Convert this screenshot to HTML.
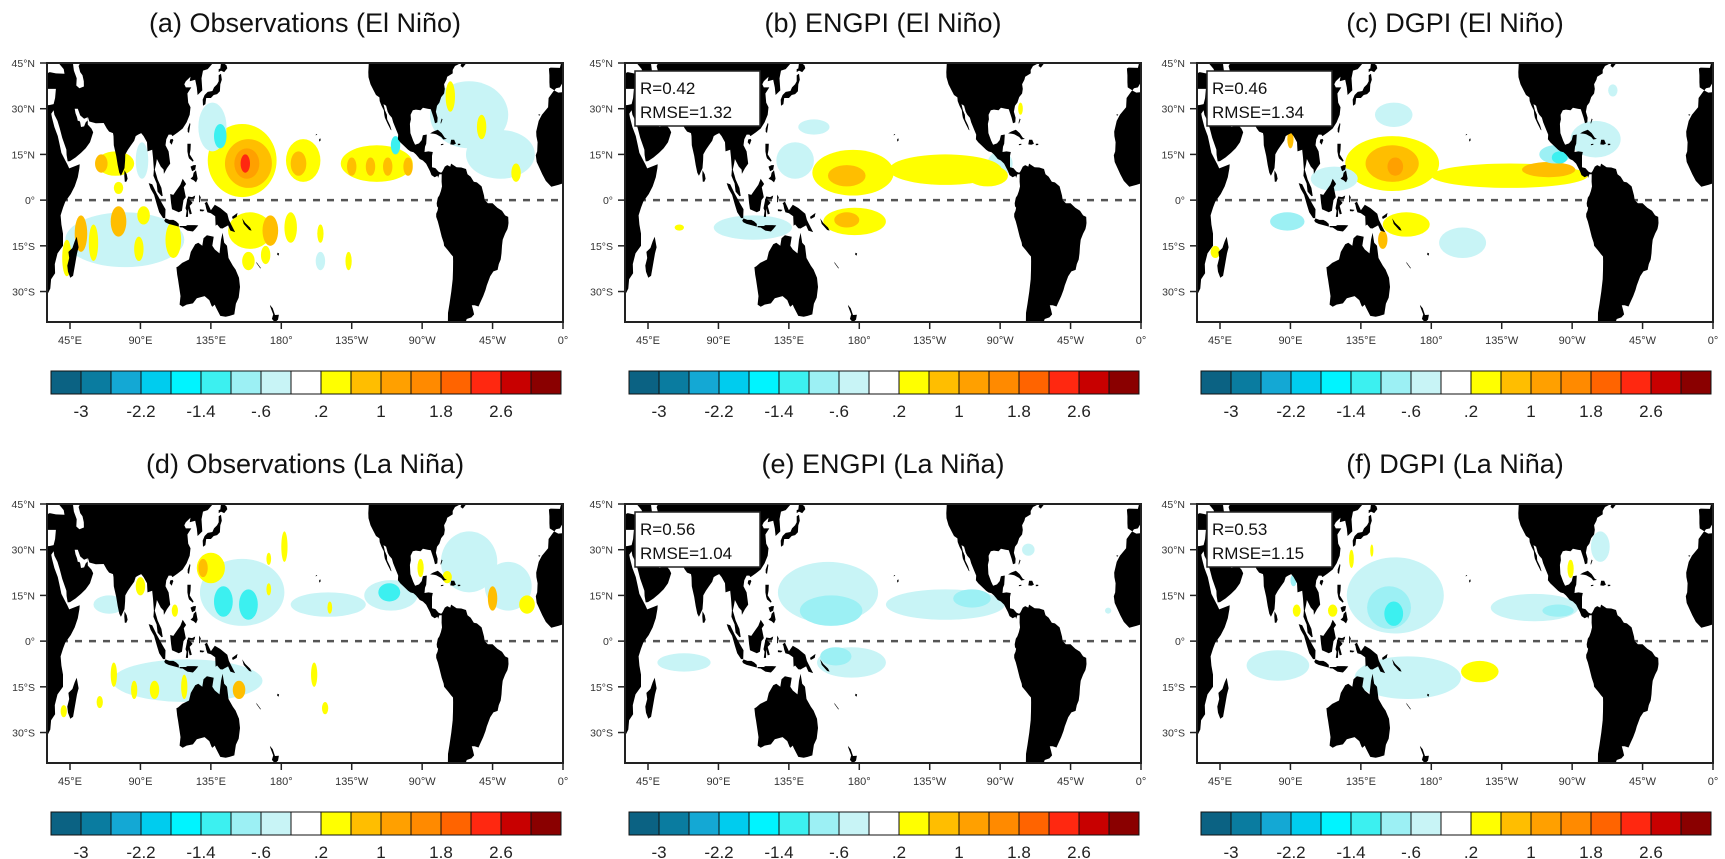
<!DOCTYPE html>
<html><head><meta charset="utf-8">
<style>
html,body{margin:0;padding:0;background:#fff;}
svg{display:block;font-family:"Liberation Sans",Arial,sans-serif;}
</style></head>
<body>
<svg id="fig" width="1725" height="859" viewBox="0 0 1725 859" xmlns="http://www.w3.org/2000/svg"></svg>
<script>
// ---- chart data ----
const lonTickValues = [45,90,135,180,225,270,315,360];
const lonTickLabels = ['45°E','90°E','135°E','180°','135°W','90°W','45°W','0°'];
const latTickValues = [45,30,15,0,-15,-30];
const latTickLabels = ['45°N','30°N','15°N','0°','15°S','30°S'];
const cbBounds = [-3,-2.6,-2.2,-1.8,-1.4,-1,-0.6,-0.2,0.2,0.6,1,1.4,1.8,2.2,2.6,3];
const cbLabels = ['-3','-2.2','-1.4','-.6','.2','1','1.8','2.6'];
const cbColors = ['#0b6283','#0a7ca0','#14a8d4','#00ccee','#00f4ff','#3cf0f0','#9cf0f4','#c8f4f6','#ffffff','#ffff00','#ffbe00','#ffa000','#ff8a00','#ff6400','#ff2810','#c80000','#8a0000'];
const panelTitles = ['(a) Observations (El Niño)','(b) ENGPI (El Niño)','(c) DGPI (El Niño)','(d) Observations (La Niña)','(e) ENGPI (La Niña)','(f) DGPI (La Niña)'];
const panelR = [null,'R=0.42','R=0.46',null,'R=0.56','R=0.53'];
const panelRMSE = [null,'RMSE=1.32','RMSE=1.34',null,'RMSE=1.04','RMSE=1.15'];
// anomaly patches: [lon, lat, half-width lon, half-height lat, value]
const anomA = [[155,13,22,12,0.4],[159,12,15,8,0.8],[158,12,8,5,1.2],[157,12,3,3,2.2],[136,24,9,8,-0.4],[141,21,4,4,-1.2],
 [194,13,11,7,0.4],[191,12,5,4,0.8],[241,12,23,6,0.4],[225,11,3,3,0.8],[237,11,3,3,0.8],[248,11,3,3,0.8],[261,11,3,3,0.8],[253,18,3,3,-1.2],
 [300,28,25,11,-0.4],[320,15,22,8,-0.4],[288,34,3,5,0.4],[308,24,3,4,0.4],[330,9,3,3,0.4],
 [74,12,12,4,0.4],[65,12,4,3,0.8],[91,13,4,6,-0.4],[76,4,3,2,0.4],
 [80,-13,38,9,-0.4],[43,-19,3,6,0.4],[52,-11,4,6,0.8],[76,-7,5,5,0.8],[92,-5,4,3,0.4],[111,-13,5,6,0.4],[89,-16,3,4,0.4],[60,-14,3,6,0.4],
 [160,-10,14,6,0.4],[173,-10,5,5,0.8],[186,-9,4,5,0.4],[205,-11,2,3,0.4],[223,-20,2,3,0.4],[205,-20,3,3,-0.4],[159,-20,4,3,0.4],[170,-18,3,3,0.4]];
const anomB = [[139,13,12,6,-0.4],[151,24,10,2.5,-0.4],[112,-9,25,4,-0.4],[270,12,8,4,-0.4],
 [176,9,26,7.5,0.4],[235,10,36,5,0.4],[262,8,13,3.5,0.4],[172,8,12,3.5,0.8],[177,-7,20,4.5,0.4],[172,-6.5,8,2.5,0.8],[65,-9,3,1,0.4],[283,30,1.5,2,0.4]];
const anomC = [[155,12,30,9,0.4],[230,8,50,4,0.4],[155,12,17,6,0.8],[157,11,5,3,1.2],[255,10,17,2.5,0.8],
 [259,15,10,3,-0.8],[262,14,5,2,-1.2],[156,28,12,4,-0.4],[88,-7,11,3,-0.8],[118,7,15,4,-0.4],[200,-14,15,5,-0.4],[296,36,3,2,-0.4],[285,20,16,6,-0.4],
 [164,-8,15,4,0.4],[149,-13,3,3,0.8],[90,20,2,3,0.8],[42,-17,3,2,0.4]];
const anomD = [[155,16,27,11,-0.4],[143,13,6,5,-1.2],[159,12,6,5,-1.2],[210,12,24,4,-0.4],[250,15,17,5,-0.4],[249,16,7,3,-1.2],
 [135,24,9,5,0.4],[130,24,3,3,0.8],[182,31,2,5,0.4],[172,27,1.5,2,0.4],[172,17,1.5,2,0.4],[211,11,1.5,2,0.4],[90,18,3,3,0.4],[112,10,2,2,0.4],
 [70,12,10,3,-0.4],[300,26,18,10,-0.4],[325,18,15,8,-0.4],[315,14,3,4,0.8],[337,12,5,3,0.4],[269,24,2,3,0.4],[286,21,3,2,0.4],
 [120,-13,48,7,-0.4],[73,-11,2,4,0.4],[86,-16,2,3,0.4],[99,-16,3,3,0.4],[118,-15,2,4,0.4],[153,-16,4,3,0.8],[201,-11,2,4,0.4],[208,-22,2,2,0.4],[64,-20,2,2,0.4],[41,-23,2,2,0.4]];
const anomE = [[160,16,32,10,-0.4],[235,12,38,5,-0.4],[162,10,20,5,-0.8],[252,14,12,3,-0.8],[175,-7,22,5,-0.4],[165,-5,10,3,-0.8],[68,-7,17,3,-0.4],[288,30,4,2,-0.4],[339,10,2,1,-0.4]];
const anomF = [[157,15,31,12.5,-0.4],[153,11,14,7,-0.8],[156,9,6,4,-1.2],[246,11,28,4.5,-0.4],[261,10,10,2,-0.8],
 [269,23.7,2,3,0.4],[94,10,2.5,2,0.4],[117,10,3,2,0.4],[129,27,1.5,3,0.4],[142,29.7,1,2,0.4],[211,-10,12,3.5,0.4],[92,20,2,2,-0.8],
 [82,-8,20,5,-0.4],[165,-12,34,7,-0.4],[288,31,6,5,-0.4]];
const panelAnoms = [anomA,anomB,anomC,anomD,anomE,anomF];

// ---- geography (land outlines, lon 0-360, lat) ----
const landPolys = [
 [[29,47],[138,47],[138,46],[133,43],[130,42.5],[129,40],[129.5,36],[126.5,34.5],[126,37],[125,39.5],[121.5,39],[122,40.5],[119,39],[118,38],[119,37],[122.5,37],[120,35],[120.5,32],[122,30.5],[121.5,28],[119.5,25.5],[117,23.5],[114,22.3],[110.5,21],[109.8,21.5],[108,21.5],[106.5,20],[106,18],[108,16],[109,12],[107,10.5],[105,8.6],[104.8,10],[103,11],[100.5,13.5],[100,12],[99.2,10],[100.3,8],[101,6.8],[103.4,4],[104.2,1.4],[103.5,1.3],[101,2.8],[100.3,5.5],[98.3,8],[98.6,10],[98,14],[97.5,16.5],[94.5,16],[94.2,19],[92,21],[90.5,22],[88.5,21.5],[87,21],[86,19.5],[84,18],[82,16.5],[80.3,15],[80.2,13],[79.8,10.5],[78,8.5],[77.5,8],[76.5,9],[75.5,11.5],[74.5,14.5],[73,18],[72.8,21],[72.5,22],[70,22.5],[68.5,23.5],[66.5,25.3],[61.5,25.2],[57.3,25.8],[56.5,27.2],[56.3,26.3],[56.4,24.8],[58.7,23.5],[59.8,22.3],[57.8,19],[55,17],[52,15.5],[48.5,14],[45,12.8],[43.5,12.7],[42.8,14.8],[42.7,16.5],[40,20.5],[38.5,23.5],[37,26],[35,28],[34.5,29.5],[33,28.3],[32.5,29.9],[33.5,27],[35,24],[37.2,21],[38.5,18],[39.5,15.5],[42,13],[43.3,11.8],[44.5,10.4],[51.2,11.8],[51,10.5],[50,7.5],[48,4.5],[45.5,2],[42,-0.5],[40.5,-2.5],[39,-5],[39.5,-8],[40.5,-11],[40.5,-15],[37,-17.5],[35.3,-21],[35.5,-24],[32.9,-26],[32.4,-29],[30.5,-31],[29,-32.5]],
 [[79.8,9.8],[81.2,8.5],[81.8,7],[81,6],[80,6],[79.7,8]],
 [[130,31],[131.5,31.5],[132,33.5],[135,33.5],[136.8,34.5],[139,34.8],[140.8,35.7],[141,38],[142,39.5],[141.5,41.5],[140,41],[140,39],[139,38],[137,37],[136,35.8],[133,35.5],[131,34.5],[129.8,33]],
 [[140,42],[141.5,42.5],[143.5,42],[145.5,43.3],[145,44.2],[142,45.5],[141.5,45],[141,43.2],[140,43]],
 [[120.2,22.5],[121,22],[121.9,25],[121.5,25.3],[120.2,23.5]],
 [[108.7,19],[110,18.2],[111,19.7],[110.5,20.1],[109,19.9]],
 [[120,18.5],[122.2,18.5],[122,16.5],[121.5,15],[124,13],[123.5,12.6],[121,13.7],[120.5,14.5],[120,16]],
 [[122,7],[123.5,7.8],[124,9],[125.5,9.8],[126.5,7],[125.5,5.8],[124,6.5]],
 [[122,11],[124,11.5],[125.5,11.5],[125,10],[123,9.5]],
 [[109,2],[109.6,-1],[110.2,-3],[114.5,-4],[116.5,-3.5],[117.5,0],[119,1],[117.7,4.2],[119.2,5.3],[117,7],[115.5,5],[113,3.2],[111,1.7]],
 [[95.3,5.6],[97.5,5.2],[100.3,2.2],[103.8,-1],[106,-3],[105.8,-5.9],[104.5,-5.9],[102,-4],[100.5,-1.5],[98.7,1.7],[96.5,3.7]],
 [[105.2,-6.8],[106,-6],[108.5,-6.5],[111,-6.5],[112.8,-7],[114.5,-7.8],[114.5,-8.7],[111,-8.2],[108,-7.8],[106,-7.3]],
 [[115,-8.5],[119,-8.5],[120,-8.2],[124.5,-8.2],[127,-8.3],[125,-9.5],[123.5,-10.3],[120,-10],[117,-9],[115,-8.9]],
 [[119,-5.5],[119.5,-3.5],[118.8,-2.7],[119.8,0],[120.5,1.2],[123,1],[125,1.5],[124.5,0.4],[121,0.4],[123.3,-0.9],[121.5,-1.9],[122.8,-4.5],[121.5,-4.7],[120.5,-2.8],[120.4,-5.5]],
 [[127.5,1.8],[128.5,1],[128,-0.8],[127.5,-0.5]],
 [[128,-3],[131,-3.2],[130,-3.7],[128,-3.6]],
 [[131,-1],[132.5,-0.5],[135,-3.3],[137.5,-1.5],[141,-2.6],[145.5,-4.5],[146.5,-6.5],[148,-8],[150.5,-10.5],[147.5,-10],[146,-8.3],[143.5,-9],[142.5,-9.3],[141,-9.2],[139,-8],[138,-8.4],[137.8,-5.3],[135,-4.3],[132.8,-4],[132,-2.8],[131.5,-1.5]],
 [[148.5,-5.5],[152,-4.2],[151.5,-5.5],[149,-6.2]],
 [[155,-6],[157,-7.5],[160,-9],[161,-10],[159.5,-9.8],[156,-7.8]],
 [[113,-22],[114,-21.8],[116.7,-20.6],[121,-19.5],[122.2,-17],[125,-14.5],[127,-14],[129.5,-15],[130.3,-12.5],[132.5,-11.5],[136.8,-12],[135.9,-15],[137.5,-16.2],[140.5,-17.5],[141.5,-13],[142.5,-10.7],[143.5,-14],[145.3,-15],[146.3,-19],[149,-21.5],[150.8,-22.8],[153,-25.5],[153.6,-28.5],[152.8,-32],[151,-34],[150,-37.5],[147,-38],[144.5,-38.3],[141,-38],[139.5,-36.5],[138,-35],[137.5,-34.3],[136,-35],[135.5,-34.7],[134,-32.8],[131,-31.5],[126,-32.2],[123.5,-33.9],[119.5,-34.3],[117,-35],[115,-34.3],[115.6,-31.5],[115,-29.5],[114,-26],[113.5,-24.5]],
 [[172.7,-34.4],[174.5,-35.5],[176,-37.7],[178.5,-37.6],[177.9,-39.2],[176.8,-39.7],[175,-41.5],[174.6,-40.5],[175,-39.5],[174,-39],[174.8,-37.5],[173,-35]],
 [[172,-40.5],[174.5,-41],[172,-42],[171,-41.5]],
 [[164,-20.2],[167,-22.3],[166.6,-22.4],[164.2,-20.7]],
 [[177.5,-17.3],[178.6,-17.5],[178.3,-18.2],[177.4,-17.9]],
 [[49.3,-12],[50.5,-15.5],[49.5,-17.5],[47,-24.8],[45.2,-25.5],[43.7,-23.5],[43.3,-21.5],[44.5,-19],[44,-17],[46.5,-15.7],[48,-13.5]],
 [[204.2,19.2],[205.2,19.6],[204.9,20.3],[204.2,20]],[[202,21.2],[203,21.6],[202.2,21.7]],
 [[235.9,47],[235.9,45],[235.6,42],[235.7,40.3],[237,38],[239,36],[240.5,34.5],[242.7,33.7],[242.9,32.5],[244,31],[245.5,29.5],[245.8,28],[246.2,27],[248,25],[250,23],[250.4,22.9],[249.5,24.5],[247.7,26.5],[247.5,28],[246.2,29.5],[245.3,31.5],[247,31],[248,29],[249,28],[250.7,27],[251.5,25.5],[253.5,23],[254.7,21.5],[254.5,20],[256,19],[258,18],[261,16.5],[262.5,16],[264.5,15.7],[266,15],[268.5,13.5],[270.5,13],[272.5,12],[274.5,10],[275,9.5],[276,8.2],[278,7.5],[279.8,8],[280.2,7.3],[281,8.5],[282.5,8.5],[282.4,6],[282.7,4.5],[282,3],[281,1.6],[280,0.8],[279.3,-1],[279.5,-2],[280.2,-2.5],[279.8,-3.5],[279,-4.5],[279,-5.5],[280,-7],[281,-9],[282.5,-12],[283.8,-14],[284,-15],[286.5,-16.5],[288.5,-17.8],[289.7,-18.5],[289.8,-20],[289.7,-23],[289.5,-26],[288.6,-30],[287.5,-34],[286.5,-37],[286.4,-42],[298,-42],[297.8,-40],[298.5,-39],[301.5,-38.5],[303.2,-37.5],[302.5,-36],[301.7,-34.5],[303.5,-34.5],[306,-34.9],[307.2,-33.5],[309,-31.5],[310.5,-29.5],[311.3,-28],[313.5,-25],[315.5,-23.4],[318.2,-22.9],[319,-21],[320.2,-19.5],[320.7,-17.5],[321,-15],[321.5,-13],[323,-11],[324.5,-9.5],[324.9,-8.5],[325.2,-7.5],[325,-5.5],[323,-5],[321,-3.5],[318,-2.5],[315,-1],[312,-1],[310,0],[309.5,1.5],[308,4.5],[305,5.8],[303,6],[301,7.7],[299,8.5],[298,10.2],[295,10.7],[292,10.8],[290,11.5],[288.5,12],[288,11],[286,11.5],[284.5,11],[283,9.5],[282.2,9],[280.5,9.3],[278.5,10.5],[276.3,10.8],[276.3,14.5],[276.8,15.8],[274,16],[271.5,15.8],[271.8,17.5],[272.6,18.5],[273,21.5],[272.5,21.5],[270.5,21.3],[269.7,19.7],[268,18.6],[265.5,18.2],[264.3,19.5],[262.5,22],[262.2,25],[262.8,26.5],[262.6,28],[264,29.5],[266,29.7],[269,29.5],[270.5,30.3],[273.5,30],[275.5,29.8],[277.3,27],[278.2,25.2],[279.7,25.5],[279.9,27],[278.8,29],[279.5,31],[281,32],[282.2,33.8],[284,35],[284.5,36.5],[284,38],[285.5,39.5],[286,40.5],[289.5,41.6],[289.5,42.7],[291,44],[293,44.5],[294.5,45],[295,47]],
 [[294.5,44],[296,43.5],[299.5,45.8],[296,46]],
 [[275.1,21.9],[277,22.5],[280,23.1],[282.5,22],[284.5,20.5],[285.8,20.1],[283.5,19.9],[282.2,20.7],[279,21.6],[277.5,21.8]],
 [[288,18.3],[288.5,19.8],[290.5,19.8],[291.6,18.5],[290,18.2]],
 [[282,18],[283.6,18.2],[283.5,18.5],[282,18.4]],
 [[292.8,18],[294.4,18.1],[294.3,18.5],[292.8,18.5]],
 [[282,25],[283,26.5],[282.5,26.8],[281.8,25.5]],
 [[361,5.5],[360,5.5],[357,5],[352.5,4.4],[349,6.3],[346.8,8.5],[345,10.5],[343.2,12.5],[342.6,14.7],[343.5,16],[343.8,19],[343,21],[342.9,22.5],[344.5,26],[346.5,28],[350.5,30.5],[350.8,33.5],[354,35.8],[354.5,36],[351.5,37],[351.3,38.7],[351.3,41],[351,43.2],[352,43.5],[358,43.4],[358.8,45],[358.8,47],[361,47]],
 [[344,28],[345.5,28.2],[345,27.7]]
];
const seaPolys = [
 [[28,31],[32,31.2],[34.5,31.5],[35.5,33.5],[36,36.5],[34,36.5],[30,36.5],[28,36.8]],
 [[28,41],[32,42],[36,41.6],[41.5,41.5],[41,43],[38,44.8],[37,46],[33,45.5],[31,46.5],[28,45.5]],
 [[47,46],[50,46.5],[51.5,45],[50.5,44],[51.5,42],[53,41],[53.8,39],[53.9,37.3],[51,36.7],[49,37.6],[49.3,40],[47.5,42.5],[47,44.5]],
 [[48,30],[50,30],[51.5,27.8],[54,26.7],[56.3,27.2],[56.4,26.2],[55,25.5],[54,24.2],[52,24],[51.5,25.5],[51,26],[50,26],[49.5,27.2],[48.5,28.5]],
 [[354.5,36],[355.5,36.7],[358,37],[359.5,38.3],[361,38.8],[361,35.5],[357,35.3],[355,35.8]]
];

// ---- layout ----
const NS='http://www.w3.org/2000/svg';
const svg=document.getElementById('fig');
const panelLeft=[47,625,1197], rowTop=[63,504], PW=516, PH=259;
const LON0=30.3, LON1=360, LAT0=45, LAT1=-40;
function mk(tag,attrs,parent){const e=document.createElementNS(NS,tag);for(const k in attrs)e.setAttribute(k,attrs[k]);(parent||svg).appendChild(e);return e;}
function colorFor(v){let i=0;for(const b of cbBounds){if(v>=b)i++;}return cbColors[i];}

for(let p=0;p<6;p++){
  const L=panelLeft[p%3], T=rowTop[Math.floor(p/3)];
  const xS=lon=>L+(lon-LON0)/(LON1-LON0)*PW;
  const yS=lat=>T+(LAT0-lat)/(LAT0-LAT1)*PH;
  const g=mk('g',{});
  
  
  const title=mk('text',{x:L+PW/2,y:T-31,'text-anchor':'middle','font-size':'27',fill:'#111'},g);
  title.textContent=panelTitles[p];
  
  
  const cid='clip'+p;
  const cp=mk('clipPath',{id:cid},g);mk('rect',{x:L,y:T,width:PW,height:PH},cp);
  const inner=mk('g',{'clip-path':'url(#'+cid+')'},g);
  mk('rect',{x:L,y:T,width:PW,height:PH,fill:'#fff'},inner);
  const data=panelAnoms[p].slice().sort((a,b)=>Math.abs(a[4])-Math.abs(b[4]));
  for(const d of data){
    const el=mk('ellipse',{cx:xS(d[0]),cy:yS(d[1]),rx:Math.abs(xS(d[0]+d[2])-xS(d[0])),ry:Math.abs(yS(d[1]-d[3])-yS(d[1])),fill:colorFor(d[4])},inner);
    
    
  }
  const eq=mk('line',{x1:L,x2:L+PW,y1:yS(0),y2:yS(0),stroke:'#555','stroke-width':2.5,'stroke-dasharray':'7,7'},inner);
  
  
  const toPts=poly=>poly.map(q=>xS(q[0]).toFixed(1)+','+yS(q[1]).toFixed(1)).join(' ');
  for(const poly of landPolys){const e=mk('polygon',{points:toPts(poly),fill:'#000'},inner);}
  for(const poly of seaPolys){const e=mk('polygon',{points:toPts(poly),fill:'#fff'},inner);}
  const fr=mk('rect',{x:L,y:T,width:PW,height:PH,fill:'none',stroke:'#222','stroke-width':2},g);
  
  
  for(let i=0;i<lonTickValues.length;i++){
    const x=xS(lonTickValues[i]);
    mk('line',{x1:x,x2:x,y1:T+PH,y2:T+PH+7,stroke:'#222','stroke-width':1.5},g);
    const t=mk('text',{x:x,y:T+PH+22,'text-anchor':'middle','font-size':'11',fill:'#333'},g);
    t.textContent=lonTickLabels[i];
    
    
  }
  for(let i=0;i<latTickValues.length;i++){
    const y=yS(latTickValues[i]);
    mk('line',{x1:L-7,x2:L,y1:y,y2:y,stroke:'#222','stroke-width':1.5},g);
    const t=mk('text',{x:L-12,y:y+4,'text-anchor':'end','font-size':'10.5',fill:'#333'},g);
    t.textContent=latTickLabels[i];
    
    
  }
  if(panelR[p]){
    const bg=mk('g',{},g);
    
    
    mk('rect',{x:L+10,y:T+8,width:125,height:55,fill:'#fff',stroke:'#222','stroke-width':1.5},bg);
    const t1=mk('text',{x:L+15,y:T+31,'font-size':'17',fill:'#111'},bg);t1.textContent=panelR[p];
    
    
    const t2=mk('text',{x:L+15,y:T+55,'font-size':'17',fill:'#111'},bg);t2.textContent=panelRMSE[p];
    
    
  }
  // colorbar
  const cb=mk('g',{},g);
  
  
  const cbX=L+4, cbY=T+308, bw=30, bh=23;
  for(let i=0;i<cbColors.length;i++){
    const r=mk('rect',{x:cbX+i*bw,y:cbY,width:bw,height:bh,fill:cbColors[i],stroke:'#111','stroke-width':1},cb);
    
    
  }
  for(let j=0;j<cbLabels.length;j++){
    const bi=cbBounds.indexOf(parseFloat(cbLabels[j]));
    const t=mk('text',{x:cbX+(bi+1)*bw,y:cbY+46,'text-anchor':'middle','font-size':'17',fill:'#222'},cb);
    t.textContent=cbLabels[j];
    
    
  }
}
</script>
</body></html>
